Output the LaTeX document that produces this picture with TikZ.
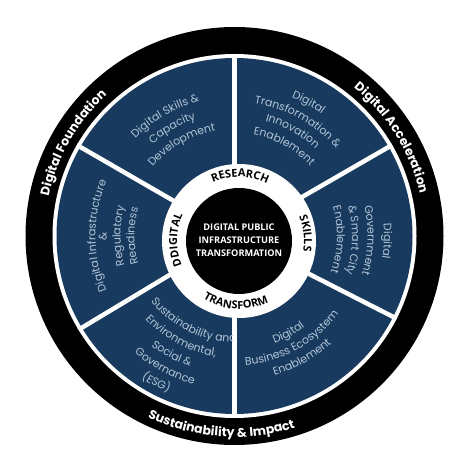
\documentclass[tikz,border=0pt]{standalone}
\usepackage{fontspec}
\usetikzlibrary{decorations.text}
\newfontfamily\pop{Poppins}
\newfontfamily\osans{Open Sans}
\definecolor{navy}{HTML}{173A5E}
\definecolor{sectext}{HTML}{B2C5D8}
\newcommand\fsec{\pop\fontsize{11}{13}\selectfont}
\newcommand\fring{\osans\bfseries\fontsize{11}{13}\selectfont}
\newcommand\fouter{\pop\bfseries\fontsize{12.5}{15}\selectfont}
% #1 cx, #2 cy, #3 start angle, #4 end angle, #5 radius, #6 text colour, #7 text
\newcommand\arctext[7]{\path[decorate,decoration={text along path,text align=center,text color=#6,text={#7}}] (#1pt,#2pt) ++(#3:#5pt) arc[start angle=#3,end angle=#4,radius=#5pt];}
\def\Ox{234.5}\def\Oy{238}
\def\Ix{239}\def\Iy{233}
\tikzset{
  disk/.style={circle,inner sep=0pt,minimum size=#1},
  divider/.style={white,line width=4.5pt}
}
\begin{document}
\begin{tikzpicture}[x=1pt,y=1pt]
\useasboundingbox (0,0) rectangle (474,474);
\fill[white] (0,0) rectangle (474,474);
\coordinate (O) at (\Ox,\Oy);
\coordinate (I) at (\Ix,\Iy);
\node[disk=418pt,fill=black] (outerring) at (O) {};
\node[disk=364pt,fill=white] (gap) at (O) {};
\node[disk=356pt,fill=navy] (sectors) at (O) {};
\foreach \a in {90,150,211,270,333,30}
  \draw[divider] (O) ++(\a:50pt) -- ++(\a:132pt);
\node[disk=154pt,fill=white] (innerring) at (I) {};
\node[disk=106pt,fill=black] (core) at (I) {};
\node[text=white,font=\osans\bfseries\fontsize{9.2}{13}\selectfont,align=center] (coretext) at (\Ix,\Iy+1) {DIGITAL PUBLIC\\INFRASTRUCTURE\\TRANSFORMATION};
% outer ring labels
\arctext{\Ox}{\Oy}{190}{110}{190}{white}{|\fouter|Digital Foundation}
\arctext{\Ox}{\Oy}{72}{-8}{190}{white}{|\fouter|Digital Acceleration}
\arctext{\Ox}{\Oy}{216}{316}{201}{white}{|\fouter|Sustainability {\&} Impact}
% inner ring labels
\arctext{\Ix}{\Iy}{139}{39}{64}{black}{|\fring|RESEARCH}
\arctext{\Ix}{\Iy}{56.6}{-43.4}{65}{black}{|\fring|SKILLS}
\arctext{\Ix}{\Iy}{217}{317}{68}{black}{|\fring|TRANSFORM}
\arctext{\Ix}{\Iy}{229}{129}{62}{black}{|\fring|DDIGITAL}
% upper-left sector
\arctext{\Ox}{\Oy}{160}{80}{139}{sectext}{|\fsec|Digital Skills {\&}}
\arctext{\Ox}{\Oy}{160}{80}{123}{sectext}{|\fsec|Capacity}
\arctext{\Ox}{\Oy}{160}{80}{107}{sectext}{|\fsec|Development}
% upper-right sector
\arctext{\Ox}{\Oy}{101}{21}{150}{sectext}{|\fsec|Digital}
\arctext{\Ox}{\Oy}{101}{21}{134}{sectext}{|\fsec|Transformation {\&}}
\arctext{\Ox}{\Oy}{101}{21}{119}{sectext}{|\fsec|Innovation}
\arctext{\Ox}{\Oy}{101}{21}{103}{sectext}{|\fsec|Enablement}
% left sector
\arctext{\Ox}{\Oy}{220}{140}{139}{sectext}{|\fsec|Digital Infrastructure}
\arctext{\Ox}{\Oy}{220}{140}{128}{sectext}{|\fsec|{\&}}
\arctext{\Ox}{\Oy}{220}{140}{114}{sectext}{|\fsec|Regulatory}
\arctext{\Ox}{\Oy}{220}{140}{100}{sectext}{|\fsec|Readiness}
% right sector
\arctext{\Ox}{\Oy}{38}{-42}{149.5}{sectext}{|\fsec|Digital}
\arctext{\Ox}{\Oy}{38}{-42}{133}{sectext}{|\fsec|Government}
\arctext{\Ox}{\Oy}{38}{-42}{117.5}{sectext}{|\fsec|{\&} Smart City}
\arctext{\Ox}{\Oy}{38}{-42}{102.5}{sectext}{|\fsec|Enablement}
% lower-right sector
\arctext{\Ox}{\Oy}{259}{339}{115}{sectext}{|\fsec|Digital}
\arctext{\Ox}{\Oy}{259}{339}{130}{sectext}{|\fsec|Business Ecosystem}
\arctext{\Ox}{\Oy}{259}{339}{145}{sectext}{|\fsec|Enablement}
% lower-left sector
\begin{scope}
\clip (0,0) rectangle (232,474);
\arctext{\Ox}{\Oy}{194.5}{294.5}{106}{sectext}{|\fsec|Sustainability and}
\arctext{\Ox}{\Oy}{192}{292}{122}{sectext}{|\fsec|Environmental,}
\arctext{\Ox}{\Oy}{192}{292}{138}{sectext}{|\fsec|Social {\&}}
\arctext{\Ox}{\Oy}{192}{292}{154}{sectext}{|\fsec|Governance}
\arctext{\Ox}{\Oy}{192}{292}{170}{sectext}{|\fsec|(ESG)}
\end{scope}
\end{tikzpicture}
\end{document}
